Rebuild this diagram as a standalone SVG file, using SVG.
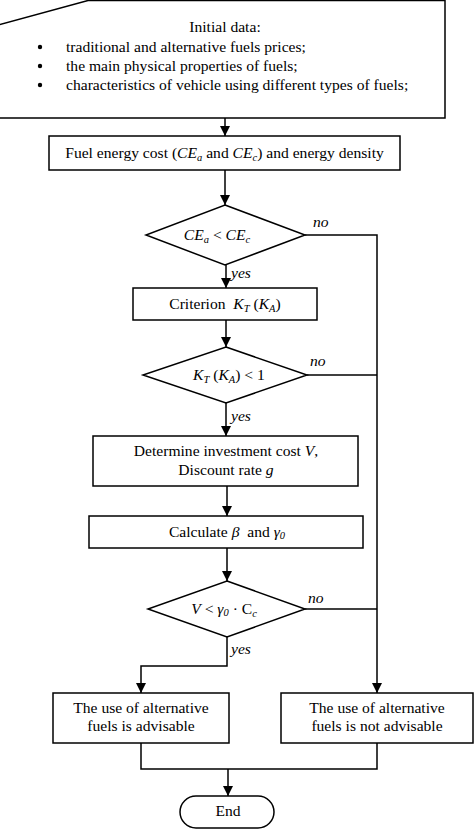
<svg xmlns="http://www.w3.org/2000/svg" width="474" height="830" viewBox="0 0 474 830">
<style>
.n{fill:#fff;stroke:#000;stroke-width:1.5}
.c{fill:none;stroke:#000;stroke-width:1.5}
.t{font-family:"Liberation Serif","Times New Roman",serif;font-size:15.6px;fill:#000}
.m{text-anchor:middle}
.i{font-style:italic}
.s{font-size:10.5px;font-style:italic}
</style>
<defs>
<marker id="a" markerWidth="10" markerHeight="10" viewBox="0 0 10 10" refX="10" refY="5" orient="auto" markerUnits="userSpaceOnUse">
<path d="M0,0 L10,5 L0,10 Z" fill="#000"/>
</marker>
</defs>
<rect width="474" height="830" fill="#fff"/>
<g id="connectors">
<path class="c" d="M225,118 V136" marker-end="url(#a)"/>
<path class="c" d="M225,170 V205" marker-end="url(#a)"/>
<path class="c" d="M226,265 V288" marker-end="url(#a)"/>
<path class="c" d="M226,320 V347" marker-end="url(#a)"/>
<path class="c" d="M226,403 V436" marker-end="url(#a)"/>
<path class="c" d="M227,486 V516" marker-end="url(#a)"/>
<path class="c" d="M227,548 V581" marker-end="url(#a)"/>
<path class="c" d="M227,637 V666 H141 V693" marker-end="url(#a)"/>
<path class="c" d="M305,235 H377 V693" marker-end="url(#a)"/>
<path class="c" d="M307,375 H377"/>
<path class="c" d="M305,609 H377"/>
<path class="c" d="M141,743 V769 H377 V743"/>
<path class="c" d="M228,769 V796" marker-end="url(#a)"/>
<text class="t i" x="313" y="227">no</text>
<text class="t i" x="310" y="366">no</text>
<text class="t i" x="308" y="603">no</text>
<text class="t i" x="231" y="278">yes</text>
<text class="t i" x="231" y="421">yes</text>
<text class="t i" x="231" y="654">yes</text>
</g>
<g id="initial">
<path class="n" d="M-2,25 L88,0.5 H445 V118 H-2 Z"/>
<text class="t m" x="225" y="32">Initial data:</text>
<circle cx="40" cy="47" r="2.2"/>
<circle cx="40" cy="66" r="2.2"/>
<circle cx="40" cy="85" r="2.2"/>
<text class="t" x="66" y="52">traditional and alternative fuels prices;</text>
<text class="t" x="66" y="71">the main physical properties of fuels;</text>
<text class="t" x="66" y="90">characteristics of vehicle using different types of fuels;</text>
</g>
<g id="energy">
<rect class="n" x="49" y="136" width="351" height="34"/>
<text class="t m" x="224.5" y="158">Fuel energy cost (<tspan class="i">CE</tspan><tspan class="s" dy="3">a</tspan><tspan dy="-3"> and </tspan><tspan class="i">CE</tspan><tspan class="s" dy="3">c</tspan><tspan dy="-3">) and energy density</tspan></text>
</g>
<g id="dec1">
<path class="n" d="M225,205 L305,235 L225,265 L146,235 Z"/>
<text class="t m" x="217" y="240"><tspan class="i">CE</tspan><tspan class="s" dy="3">a</tspan><tspan dy="-3"> &lt; </tspan><tspan class="i">CE</tspan><tspan class="s" dy="3">c</tspan></text>
</g>
<g id="criterion">
<rect class="n" x="133" y="288" width="184" height="32"/>
<text class="t m" x="225" y="309">Criterion&#160; <tspan class="i">K</tspan><tspan class="s" dy="3">T</tspan><tspan dy="-3"> (</tspan><tspan class="i">K</tspan><tspan class="s" dy="3">A</tspan><tspan dy="-3">)</tspan></text>
</g>
<g id="dec2">
<path class="n" d="M226,347 L307,375 L226,403 L143,375 Z"/>
<text class="t m" x="229" y="380"><tspan class="i">K</tspan><tspan class="s" dy="3">T</tspan><tspan dy="-3"> (</tspan><tspan class="i">K</tspan><tspan class="s" dy="3">A</tspan><tspan dy="-3">) &lt; 1</tspan></text>
</g>
<g id="invest">
<rect class="n" x="93" y="436" width="265" height="50"/>
<text class="t m" x="226" y="456">Determine investment cost <tspan class="i">V</tspan>,</text>
<text class="t m" x="226" y="475">Discount rate <tspan class="i">g</tspan></text>
</g>
<g id="calc">
<rect class="n" x="89" y="516" width="274" height="32"/>
<text class="t m" x="227" y="537">Calculate <tspan class="i">β</tspan>&#160; and <tspan class="i">γ</tspan><tspan class="s" dy="2">0</tspan></text>
</g>
<g id="dec3">
<path class="n" d="M227,581 L305,609 L227,637 L148,609 Z"/>
<text class="t m" x="224" y="614"><tspan class="i">V</tspan> &lt; <tspan class="i">γ</tspan><tspan class="s" dy="2">0</tspan><tspan dy="-2"> · C</tspan><tspan class="s" dy="3">c</tspan></text>
</g>
<g id="adv">
<rect class="n" x="53" y="693" width="176" height="50"/>
<text class="t m" x="141" y="713">The use of alternative</text>
<text class="t m" x="141" y="731">fuels is advisable</text>
</g>
<g id="notadv">
<rect class="n" x="281" y="693" width="192" height="50"/>
<text class="t m" x="377" y="713">The use of alternative</text>
<text class="t m" x="377" y="731">fuels is not advisable</text>
</g>
<g id="end">
<rect class="n" x="180" y="796" width="94" height="32" rx="16"/>
<text class="t m" x="228" y="816">End</text>
</g>
</svg>
